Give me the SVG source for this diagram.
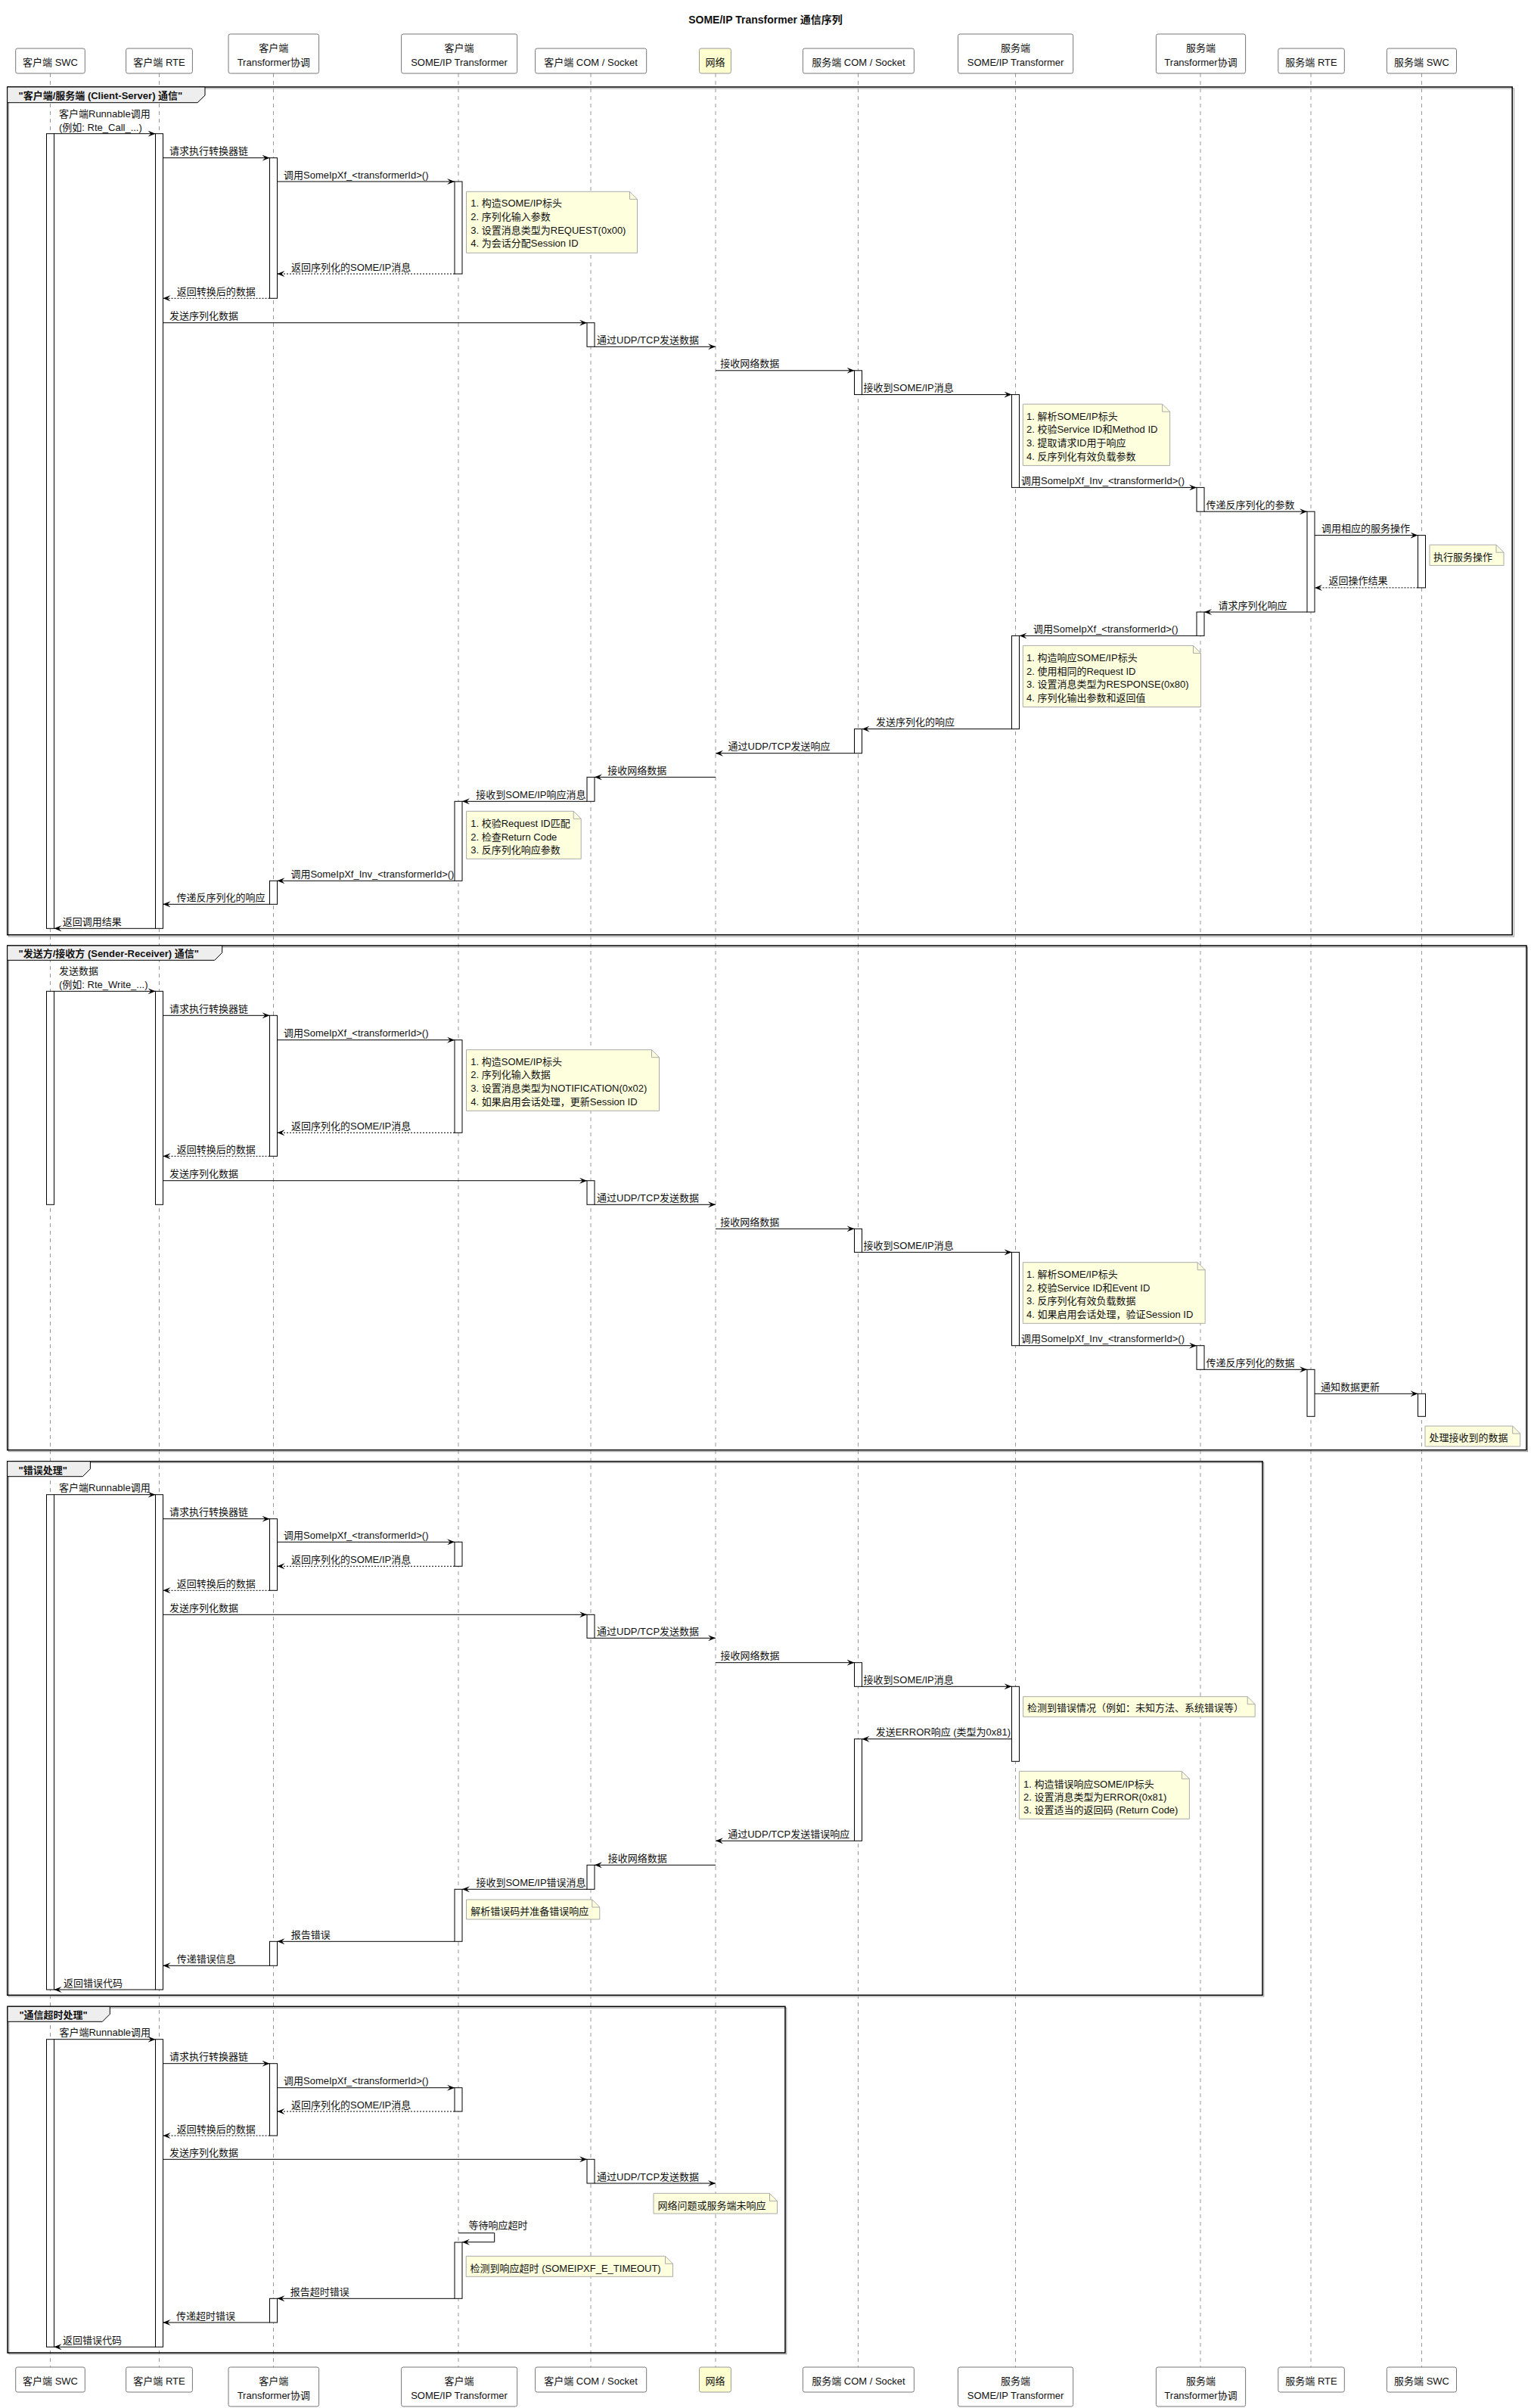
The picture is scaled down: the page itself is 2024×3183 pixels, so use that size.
<svg xmlns="http://www.w3.org/2000/svg" width="2024" height="3183" viewBox="0 0 2024 3183">
<defs>
<marker id="ah" viewBox="0 0 10 8" refX="10" refY="4" markerWidth="10" markerHeight="8" markerUnits="userSpaceOnUse" orient="auto"><path d="M0,0 L10,4 L0,8 L4,4 Z" fill="#000"/></marker>
<style>
text{font-family:"Liberation Sans","Noto Sans CJK SC",sans-serif;font-size:13px;fill:#111}
.c{text-anchor:middle}
.b{font-weight:bold}
.ll{stroke:#999;stroke-width:1;stroke-dasharray:5,5;fill:none}
.pb{fill:#fff;stroke:#777;stroke-width:1}
.pn{fill:#FEFECE;stroke:#999;stroke-width:1}
.act{fill:#fff;stroke:#000;stroke-width:1}
.m{stroke:#000;stroke-width:1;fill:none;marker-end:url(#ah)}
.r{stroke:#000;stroke-width:1;fill:none;stroke-dasharray:2,2;marker-end:url(#ah)}
.note{fill:#FEFFDD;stroke:#AAA;stroke-width:1}
.fold{fill:none;stroke:#AAA;stroke-width:1}
.fr{fill:none;stroke:#000;stroke-width:1.5}
.frs{fill:none;stroke:#999;stroke-width:1}
.tab{fill:#EEE;stroke:#000;stroke-width:1}
</style>
</defs>
<rect width="2024" height="3183" fill="#fff"/>
<text id="title" class="c b" x="1012" y="31" style="font-size:14px">SOME/IP Transformer 通信序列</text>

<g id="lifelines">
<line class="ll" x1="66.5" y1="97" x2="66.5" y2="3129"/>
<line class="ll" x1="210.5" y1="97" x2="210.5" y2="3129"/>
<line class="ll" x1="361.5" y1="97" x2="361.5" y2="3129"/>
<line class="ll" x1="606" y1="97" x2="606" y2="3129"/>
<line class="ll" x1="781" y1="97" x2="781" y2="3129"/>
<line class="ll" x1="946" y1="97" x2="946" y2="3129"/>
<line class="ll" x1="1134.5" y1="97" x2="1134.5" y2="3129"/>
<line class="ll" x1="1342.5" y1="97" x2="1342.5" y2="3129"/>
<line class="ll" x1="1587" y1="97" x2="1587" y2="3129"/>
<line class="ll" x1="1733" y1="97" x2="1733" y2="3129"/>
<line class="ll" x1="1879.5" y1="97" x2="1879.5" y2="3129"/>
</g>

<g id="frames">
<g id="frame-cs">
<rect class="frs" x="11.5" y="117" width="1990" height="1121"/>
<rect class="fr" x="9.7" y="115" width="1989.5" height="1120.7"/>
<path class="tab" d="M9.7,115 H271 V126 L261,135.7 H9.7 Z"/>
<text class="b" x="24.5" y="131.2">"客户端/服务端 (Client-Server) 通信"</text>
</g>
<g id="frame-sr">
<rect class="frs" x="11.5" y="1252" width="2008" height="666.7"/>
<rect class="fr" x="9.7" y="1250" width="2008.3" height="666.7"/>
<path class="tab" d="M9.7,1250 H293.7 V1259.3 L283.7,1269.3 H9.7 Z"/>
<text class="b" x="24.5" y="1265.2">"发送方/接收方 (Sender-Receiver) 通信"</text>
</g>
<g id="frame-err">
<rect class="frs" x="11.5" y="1933.5" width="1659.3" height="705.6"/>
<rect class="fr" x="9.7" y="1931.7" width="1659.3" height="705.6"/>
<path class="tab" d="M9.7,1931.7 H119.4 V1941.7 L109.4,1951.7 H9.7 Z"/>
<text class="b" x="24.5" y="1947.8">"错误处理"</text>
</g>
<g id="frame-timeout">
<rect class="frs" x="11.8" y="2654.1" width="1028" height="457.7"/>
<rect class="fr" x="10" y="2652.3" width="1028" height="457.7"/>
<path class="tab" d="M10,2652.3 H145.3 V2662.3 L135.3,2672.3 H10 Z"/>
<text class="b" x="25.4" y="2667.8">"通信超时处理"</text>
</g>
</g>

<g id="p-client-swc">
<rect class="pb" x="20.7" y="64" width="91.6" height="33" rx="2.5"/>
<text class="c" x="66.5" y="86.5">客户端 SWC</text>
<rect class="pb" x="20.7" y="3129" width="91.6" height="33" rx="2.5"/>
<text class="c" x="66.5" y="3151.5">客户端 SWC</text>
</g>
<g id="p-client-rte">
<rect class="pb" x="166.6" y="64" width="87.8" height="33" rx="2.5"/>
<text class="c" x="210.5" y="86.5">客户端 RTE</text>
<rect class="pb" x="166.6" y="3129" width="87.8" height="33" rx="2.5"/>
<text class="c" x="210.5" y="3151.5">客户端 RTE</text>
</g>
<g id="p-client-tc">
<rect class="pb" x="302" y="45" width="119.6" height="52" rx="2.5"/>
<text class="c" x="361.8" y="67.5">客户端</text>
<text class="c" x="361.8" y="86.5">Transformer协调</text>
<rect class="pb" x="302" y="3129" width="119.6" height="52" rx="2.5"/>
<text class="c" x="361.8" y="3151.5">客户端</text>
<text class="c" x="361.8" y="3170.5">Transformer协调</text>
</g>
<g id="p-client-xf">
<rect class="pb" x="530.6" y="45" width="153.1" height="52" rx="2.5"/>
<text class="c" x="607" y="67.5">客户端</text>
<text class="c" x="607" y="86.5">SOME/IP Transformer</text>
<rect class="pb" x="530.6" y="3129" width="153.1" height="52" rx="2.5"/>
<text class="c" x="607" y="3151.5">客户端</text>
<text class="c" x="607" y="3170.5">SOME/IP Transformer</text>
</g>
<g id="p-client-com">
<rect class="pb" x="707.6" y="64" width="147.1" height="33" rx="2.5"/>
<text class="c" x="781" y="86.5">客户端 COM / Socket</text>
<rect class="pb" x="707.6" y="3129" width="147.1" height="33" rx="2.5"/>
<text class="c" x="781" y="3151.5">客户端 COM / Socket</text>
</g>
<g id="p-network">
<rect class="pn" x="924.5" y="64" width="41.9" height="33" rx="2.5"/>
<text class="c" x="945.5" y="86.5">网络</text>
<rect class="pn" x="924.5" y="3129" width="41.9" height="33" rx="2.5"/>
<text class="c" x="945.5" y="3151.5">网络</text>
</g>
<g id="p-server-com">
<rect class="pb" x="1061.4" y="64" width="147" height="33" rx="2.5"/>
<text class="c" x="1134.9" y="86.5">服务端 COM / Socket</text>
<rect class="pb" x="1061.4" y="3129" width="147" height="33" rx="2.5"/>
<text class="c" x="1134.9" y="3151.5">服务端 COM / Socket</text>
</g>
<g id="p-server-xf">
<rect class="pb" x="1266.5" y="45" width="152.2" height="52" rx="2.5"/>
<text class="c" x="1342.6" y="67.5">服务端</text>
<text class="c" x="1342.6" y="86.5">SOME/IP Transformer</text>
<rect class="pb" x="1266.5" y="3129" width="152.2" height="52" rx="2.5"/>
<text class="c" x="1342.6" y="3151.5">服务端</text>
<text class="c" x="1342.6" y="3170.5">SOME/IP Transformer</text>
</g>
<g id="p-server-tc">
<rect class="pb" x="1528.4" y="45" width="118.2" height="52" rx="2.5"/>
<text class="c" x="1587.5" y="67.5">服务端</text>
<text class="c" x="1587.5" y="86.5">Transformer协调</text>
<rect class="pb" x="1528.4" y="3129" width="118.2" height="52" rx="2.5"/>
<text class="c" x="1587.5" y="3151.5">服务端</text>
<text class="c" x="1587.5" y="3170.5">Transformer协调</text>
</g>
<g id="p-server-rte">
<rect class="pb" x="1689.8" y="64" width="87.5" height="33" rx="2.5"/>
<text class="c" x="1733.5" y="86.5">服务端 RTE</text>
<rect class="pb" x="1689.8" y="3129" width="87.5" height="33" rx="2.5"/>
<text class="c" x="1733.5" y="3151.5">服务端 RTE</text>
</g>
<g id="p-server-swc">
<rect class="pb" x="1833.4" y="64" width="92.1" height="33" rx="2.5"/>
<text class="c" x="1879.5" y="86.5">服务端 SWC</text>
<rect class="pb" x="1833.4" y="3129" width="92.1" height="33" rx="2.5"/>
<text class="c" x="1879.5" y="3151.5">服务端 SWC</text>
</g>

<g id="activations">
<rect class="act" x="61.5" y="176.7" width="10" height="1050.6"/>
<rect class="act" x="205.5" y="176.7" width="10" height="1050.6"/>
<rect class="act" x="356.5" y="208.7" width="10" height="185.6"/>
<rect class="act" x="356.5" y="1164.3" width="10" height="31"/>
<rect class="act" x="601" y="240" width="10" height="122"/>
<rect class="act" x="601" y="1059.3" width="10" height="105"/>
<rect class="act" x="776" y="426.7" width="10" height="31.6"/>
<rect class="act" x="776" y="1027.3" width="10" height="32"/>
<rect class="act" x="1129.5" y="489.8" width="10" height="31.8"/>
<rect class="act" x="1129.5" y="963.6" width="10" height="32.1"/>
<rect class="act" x="1337.5" y="521.6" width="10" height="122.8"/>
<rect class="act" x="1337.5" y="840.4" width="10" height="123.2"/>
<rect class="act" x="1582" y="644.4" width="10" height="31.8"/>
<rect class="act" x="1582" y="809" width="10" height="31.4"/>
<rect class="act" x="1728" y="676.2" width="10" height="132.8"/>
<rect class="act" x="1874.5" y="707.6" width="10" height="69.3"/>
<rect class="act" x="61.5" y="1310.3" width="10" height="282"/>
<rect class="act" x="205.5" y="1310.3" width="10" height="282"/>
<rect class="act" x="356.5" y="1342.3" width="10" height="186"/>
<rect class="act" x="601" y="1374.7" width="10" height="122.6"/>
<rect class="act" x="776" y="1560.7" width="10" height="31.6"/>
<rect class="act" x="1129.5" y="1624.3" width="10" height="31"/>
<rect class="act" x="1337.5" y="1655.3" width="10" height="123.4"/>
<rect class="act" x="1582" y="1778.7" width="10" height="31.6"/>
<rect class="act" x="1728" y="1810.3" width="10" height="62"/>
<rect class="act" x="1874.5" y="1842.3" width="10" height="30"/>
<rect class="act" x="61.5" y="1975.7" width="10" height="654.3"/>
<rect class="act" x="205.5" y="1975.7" width="10" height="654.3"/>
<rect class="act" x="356.5" y="2007.7" width="10" height="94.6"/>
<rect class="act" x="356.5" y="2566.3" width="10" height="32"/>
<rect class="act" x="601" y="2038.3" width="10" height="32"/>
<rect class="act" x="601" y="2497.3" width="10" height="69"/>
<rect class="act" x="776" y="2134.3" width="10" height="31"/>
<rect class="act" x="776" y="2465.3" width="10" height="32"/>
<rect class="act" x="1129.5" y="2197.7" width="10" height="31.6"/>
<rect class="act" x="1129.5" y="2298.7" width="10" height="134.6"/>
<rect class="act" x="1337.5" y="2229.3" width="10" height="99"/>
<rect class="act" x="61.5" y="2695.7" width="10" height="406.6"/>
<rect class="act" x="205.5" y="2695.7" width="10" height="406.6"/>
<rect class="act" x="356.5" y="2727.7" width="10" height="95.3"/>
<rect class="act" x="356.5" y="3038.3" width="10" height="31.7"/>
<rect class="act" x="601" y="2759.7" width="10" height="31.3"/>
<rect class="act" x="601" y="2964" width="10" height="74.3"/>
<rect class="act" x="776" y="2854.3" width="10" height="31.7"/>
</g>

<g id="connectors">
<line class="m" x1="71.5" y1="176.7" x2="205.5" y2="176.7"/>
<text x="78" y="154.5">客户端Runnable调用</text>
<text x="78" y="172.5">(例如: Rte_Call_...)</text>
<line class="m" x1="215.5" y1="208.7" x2="356.5" y2="208.7"/>
<text x="224" y="204.2">请求执行转换器链</text>
<line class="m" x1="366.5" y1="240" x2="601" y2="240"/>
<text x="375" y="235.5">调用SomeIpXf_&lt;transformerId&gt;()</text>
<line class="r" x1="601" y1="362" x2="366.5" y2="362"/>
<text x="385" y="357.5">返回序列化的SOME/IP消息</text>
<line class="r" x1="356.5" y1="394.3" x2="215.5" y2="394.3"/>
<text x="233.7" y="389.8">返回转换后的数据</text>
<line class="m" x1="215.5" y1="426.7" x2="776" y2="426.7"/>
<text x="224" y="422.2">发送序列化数据</text>
<line class="m" x1="786" y1="458.3" x2="946" y2="458.3"/>
<text x="789" y="453.8">通过UDP/TCP发送数据</text>
<line class="m" x1="946" y1="489.8" x2="1129.5" y2="489.8"/>
<text x="952.3" y="485.3">接收网络数据</text>
<line class="m" x1="1139.5" y1="521.6" x2="1337.5" y2="521.6"/>
<text x="1141.6" y="517.1">接收到SOME/IP消息</text>
<line class="m" x1="1347.5" y1="644.4" x2="1582" y2="644.4"/>
<text x="1350" y="639.9">调用SomeIpXf_Inv_&lt;transformerId&gt;()</text>
<line class="m" x1="1592" y1="676.2" x2="1728" y2="676.2"/>
<text x="1594.6" y="671.7">传递反序列化的参数</text>
<line class="m" x1="1738" y1="707.6" x2="1874.5" y2="707.6"/>
<text x="1747" y="703.1">调用相应的服务操作</text>
<line class="r" x1="1874.5" y1="776.9" x2="1738" y2="776.9"/>
<text x="1756.6" y="772.4">返回操作结果</text>
<line class="m" x1="1728" y1="809" x2="1592" y2="809"/>
<text x="1610.4" y="804.5">请求序列化响应</text>
<line class="m" x1="1582" y1="840.4" x2="1347.5" y2="840.4"/>
<text x="1366" y="835.9">调用SomeIpXf_&lt;transformerId&gt;()</text>
<line class="m" x1="1337.5" y1="963.6" x2="1139.5" y2="963.6"/>
<text x="1158" y="959.1">发送序列化的响应</text>
<line class="m" x1="1129.5" y1="995.7" x2="946" y2="995.7"/>
<text x="962.5" y="991.2">通过UDP/TCP发送响应</text>
<line class="m" x1="946" y1="1027.3" x2="786" y2="1027.3"/>
<text x="803.2" y="1022.8">接收网络数据</text>
<line class="m" x1="776" y1="1059.3" x2="611" y2="1059.3"/>
<text x="629.3" y="1054.8">接收到SOME/IP响应消息</text>
<line class="m" x1="601" y1="1164.3" x2="366.5" y2="1164.3"/>
<text x="384.4" y="1159.8">调用SomeIpXf_Inv_&lt;transformerId&gt;()</text>
<line class="m" x1="356.5" y1="1195.3" x2="215.5" y2="1195.3"/>
<text x="233.6" y="1190.8">传递反序列化的响应</text>
<line class="m" x1="205.5" y1="1227.3" x2="71.5" y2="1227.3"/>
<text x="82.8" y="1222.8">返回调用结果</text>
<line class="m" x1="71.5" y1="1310.3" x2="205.5" y2="1310.3"/>
<text x="78" y="1287.8">发送数据</text>
<text x="78" y="1306.2">(例如: Rte_Write_...)</text>
<line class="m" x1="215.5" y1="1342.3" x2="356.5" y2="1342.3"/>
<text x="224" y="1337.8">请求执行转换器链</text>
<line class="m" x1="366.5" y1="1374.7" x2="601" y2="1374.7"/>
<text x="375" y="1370.2">调用SomeIpXf_&lt;transformerId&gt;()</text>
<line class="r" x1="601" y1="1497.3" x2="366.5" y2="1497.3"/>
<text x="385" y="1492.8">返回序列化的SOME/IP消息</text>
<line class="r" x1="356.5" y1="1528.3" x2="215.5" y2="1528.3"/>
<text x="233.7" y="1523.8">返回转换后的数据</text>
<line class="m" x1="215.5" y1="1560.7" x2="776" y2="1560.7"/>
<text x="224" y="1556.2">发送序列化数据</text>
<line class="m" x1="786" y1="1592.3" x2="946" y2="1592.3"/>
<text x="789" y="1587.8">通过UDP/TCP发送数据</text>
<line class="m" x1="946" y1="1624.3" x2="1129.5" y2="1624.3"/>
<text x="952.3" y="1619.8">接收网络数据</text>
<line class="m" x1="1139.5" y1="1655.3" x2="1337.5" y2="1655.3"/>
<text x="1141.6" y="1650.8">接收到SOME/IP消息</text>
<line class="m" x1="1347.5" y1="1778.7" x2="1582" y2="1778.7"/>
<text x="1350" y="1774.2">调用SomeIpXf_Inv_&lt;transformerId&gt;()</text>
<line class="m" x1="1592" y1="1810.3" x2="1728" y2="1810.3"/>
<text x="1594.6" y="1805.8">传递反序列化的数据</text>
<line class="m" x1="1738" y1="1842.3" x2="1874.5" y2="1842.3"/>
<text x="1745.9" y="1837.8">通知数据更新</text>
<line class="m" x1="71.5" y1="1975.7" x2="205.5" y2="1975.7"/>
<text x="78" y="1971.2">客户端Runnable调用</text>
<line class="m" x1="215.5" y1="2007.7" x2="356.5" y2="2007.7"/>
<text x="224" y="2003.2">请求执行转换器链</text>
<line class="m" x1="366.5" y1="2038.3" x2="601" y2="2038.3"/>
<text x="375" y="2033.8">调用SomeIpXf_&lt;transformerId&gt;()</text>
<line class="r" x1="601" y1="2070.3" x2="366.5" y2="2070.3"/>
<text x="385" y="2065.8">返回序列化的SOME/IP消息</text>
<line class="r" x1="356.5" y1="2102.3" x2="215.5" y2="2102.3"/>
<text x="233.7" y="2097.8">返回转换后的数据</text>
<line class="m" x1="215.5" y1="2134.3" x2="776" y2="2134.3"/>
<text x="224" y="2129.8">发送序列化数据</text>
<line class="m" x1="786" y1="2165.3" x2="946" y2="2165.3"/>
<text x="789" y="2160.8">通过UDP/TCP发送数据</text>
<line class="m" x1="946" y1="2197.7" x2="1129.5" y2="2197.7"/>
<text x="952.6" y="2193.2">接收网络数据</text>
<line class="m" x1="1139.5" y1="2229.3" x2="1337.5" y2="2229.3"/>
<text x="1141.6" y="2224.8">接收到SOME/IP消息</text>
<line class="m" x1="1337.5" y1="2298.7" x2="1139.5" y2="2298.7"/>
<text x="1157.7" y="2294.2">发送ERROR响应 (类型为0x81)</text>
<line class="m" x1="1129.5" y1="2433.3" x2="946" y2="2433.3"/>
<text x="962.2" y="2428.8">通过UDP/TCP发送错误响应</text>
<line class="m" x1="946" y1="2465.3" x2="786" y2="2465.3"/>
<text x="803.7" y="2460.8">接收网络数据</text>
<line class="m" x1="776" y1="2497.3" x2="611" y2="2497.3"/>
<text x="629.4" y="2492.8">接收到SOME/IP错误消息</text>
<line class="m" x1="601" y1="2566.3" x2="366.5" y2="2566.3"/>
<text x="384.8" y="2561.8">报告错误</text>
<line class="m" x1="356.5" y1="2598.3" x2="215.5" y2="2598.3"/>
<text x="233.7" y="2593.8">传递错误信息</text>
<line class="m" x1="205.5" y1="2630" x2="71.5" y2="2630"/>
<text x="84" y="2625.5">返回错误代码</text>
<line class="m" x1="71.5" y1="2695.7" x2="205.5" y2="2695.7"/>
<text x="78.4" y="2691.2">客户端Runnable调用</text>
<line class="m" x1="215.5" y1="2727.7" x2="356.5" y2="2727.7"/>
<text x="224" y="2723.2">请求执行转换器链</text>
<line class="m" x1="366.5" y1="2759.7" x2="601" y2="2759.7"/>
<text x="375" y="2755.2">调用SomeIpXf_&lt;transformerId&gt;()</text>
<line class="r" x1="601" y1="2791" x2="366.5" y2="2791"/>
<text x="385" y="2786.5">返回序列化的SOME/IP消息</text>
<line class="r" x1="356.5" y1="2823" x2="215.5" y2="2823"/>
<text x="233.7" y="2818.5">返回转换后的数据</text>
<line class="m" x1="215.5" y1="2854.3" x2="776" y2="2854.3"/>
<text x="224" y="2849.8">发送序列化数据</text>
<line class="m" x1="786" y1="2886" x2="946" y2="2886"/>
<text x="789" y="2881.5">通过UDP/TCP发送数据</text>
<path class="m" d="M606,2951.7 H653.7 V2963.7 H611"/>
<text x="619.5" y="2946.2">等待响应超时</text>
<line class="m" x1="601" y1="3038.3" x2="366.5" y2="3038.3"/>
<text x="383.8" y="3033.8">报告超时错误</text>
<line class="m" x1="356.5" y1="3070" x2="215.5" y2="3070"/>
<text x="233" y="3065.5">传递超时错误</text>
<line class="m" x1="205.5" y1="3102.3" x2="71.5" y2="3102.3"/>
<text x="83" y="3097.8">返回错误代码</text>
</g>

<g id="notes">
<g id="note-cs-req">
<path class="note" d="M616.5,253.3 H832.5 L842.5,263.3 V334.3 H616.5 Z"/>
<path class="fold" d="M832.5,253.3 V263.3 H842.5"/>
<text x="622.3" y="273.2">1. 构造SOME/IP标头</text>
<text x="622.3" y="290.5">2. 序列化输入参数</text>
<text x="622.3" y="308.8">3. 设置消息类型为REQUEST(0x00)</text>
<text x="622.3" y="326.2">4. 为会话分配Session ID</text>
</g>
<g id="note-cs-srv">
<path class="note" d="M1352.3,534.2 H1536.6 L1546.6,544.2 V615.4 H1352.3 Z"/>
<path class="fold" d="M1536.6,534.2 V544.2 H1546.6"/>
<text x="1357" y="555.2">1. 解析SOME/IP标头</text>
<text x="1357" y="572.4">2. 校验Service ID和Method ID</text>
<text x="1357" y="590">3. 提取请求ID用于响应</text>
<text x="1357" y="607.6">4. 反序列化有效负载参数</text>
</g>
<g id="note-cs-exec">
<path class="note" d="M1890,720.2 H1978 L1988,730.2 V747.4 H1890 Z"/>
<path class="fold" d="M1978,720.2 V730.2 H1988"/>
<text x="1895" y="741.2">执行服务操作</text>
</g>
<g id="note-cs-resp">
<path class="note" d="M1352.3,853.4 H1577.5 L1587.5,863.4 V934.5 H1352.3 Z"/>
<path class="fold" d="M1577.5,853.4 V863.4 H1587.5"/>
<text x="1357" y="874">1. 构造响应SOME/IP标头</text>
<text x="1357" y="892.3">2. 使用相同的Request ID</text>
<text x="1357" y="909.2">3. 设置消息类型为RESPONSE(0x80)</text>
<text x="1357" y="926.8">4. 序列化输出参数和返回值</text>
</g>
<g id="note-cs-client">
<path class="note" d="M616.6,1072.3 H758.2 L768.2,1082.3 V1135.3 H616.6 Z"/>
<path class="fold" d="M758.2,1072.3 V1082.3 H768.2"/>
<text x="622.2" y="1092.5">1. 校验Request ID匹配</text>
<text x="622.2" y="1110.5">2. 检查Return Code</text>
<text x="622.2" y="1127.8">3. 反序列化响应参数</text>
</g>
<g id="note-sr-client">
<path class="note" d="M616.5,1387.7 H861.5 L871.5,1397.7 V1468.3 H616.5 Z"/>
<path class="fold" d="M861.5,1387.7 V1397.7 H871.5"/>
<text x="622.3" y="1407.8">1. 构造SOME/IP标头</text>
<text x="622.3" y="1424.8">2. 序列化输入数据</text>
<text x="622.3" y="1443.2">3. 设置消息类型为NOTIFICATION(0x02)</text>
<text x="622.3" y="1460.5">4. 如果启用会话处理，更新Session ID</text>
</g>
<g id="note-sr-srv">
<path class="note" d="M1352.3,1668.7 H1583.2 L1593.2,1678.7 V1749.3 H1352.3 Z"/>
<path class="fold" d="M1583.2,1668.7 V1678.7 H1593.2"/>
<text x="1357" y="1688.8">1. 解析SOME/IP标头</text>
<text x="1357" y="1706.8">2. 校验Service ID和Event ID</text>
<text x="1357" y="1723.8">3. 反序列化有效负载数据</text>
<text x="1357" y="1742.2">4. 如果启用会话处理，验证Session ID</text>
</g>
<g id="note-sr-swc">
<path class="note" d="M1884,1885 H1999.7 L2009.7,1895 V1912 H1884 Z"/>
<path class="fold" d="M1999.7,1885 V1895 H2009.7"/>
<text x="1889.5" y="1904.5">处理接收到的数据</text>
</g>
<g id="note-err-detect">
<path class="note" d="M1352.6,2242.7 H1649.2 L1659.2,2252.7 V2269.3 H1352.6 Z"/>
<path class="fold" d="M1649.2,2242.7 V2252.7 H1659.2"/>
<text x="1358" y="2261.8">检测到错误情况（例如：未知方法、系统错误等）</text>
</g>
<g id="note-err-build">
<path class="note" d="M1347.4,2341.3 H1562.4 L1572.4,2351.3 V2404.3 H1347.4 Z"/>
<path class="fold" d="M1562.4,2341.3 V2351.3 H1572.4"/>
<text x="1353" y="2362.5">1. 构造错误响应SOME/IP标头</text>
<text x="1353" y="2380.2">2. 设置消息类型为ERROR(0x81)</text>
<text x="1353" y="2397.2">3. 设置适当的返回码 (Return Code)</text>
</g>
<g id="note-err-client">
<path class="note" d="M616.5,2511 H782.8 L792.8,2521 V2537 H616.5 Z"/>
<path class="fold" d="M782.8,2511 V2521 H792.8"/>
<text x="622.3" y="2531.2">解析错误码并准备错误响应</text>
</g>
<g id="note-to-net">
<path class="note" d="M864,2899.3 H1017.5 L1027.5,2909.3 V2926 H864 Z"/>
<path class="fold" d="M1017.5,2899.3 V2909.3 H1027.5"/>
<text x="869.4" y="2919.5">网络问题或服务端未响应</text>
</g>
<g id="note-to-detect">
<path class="note" d="M616.2,2982.3 H879.5 L889.5,2992.3 V3009.3 H616.2 Z"/>
<path class="fold" d="M879.5,2982.3 V2992.3 H889.5"/>
<text x="621.6" y="3002.8">检测到响应超时 (SOMEIPXF_E_TIMEOUT)</text>
</g>
</g>
</svg>
